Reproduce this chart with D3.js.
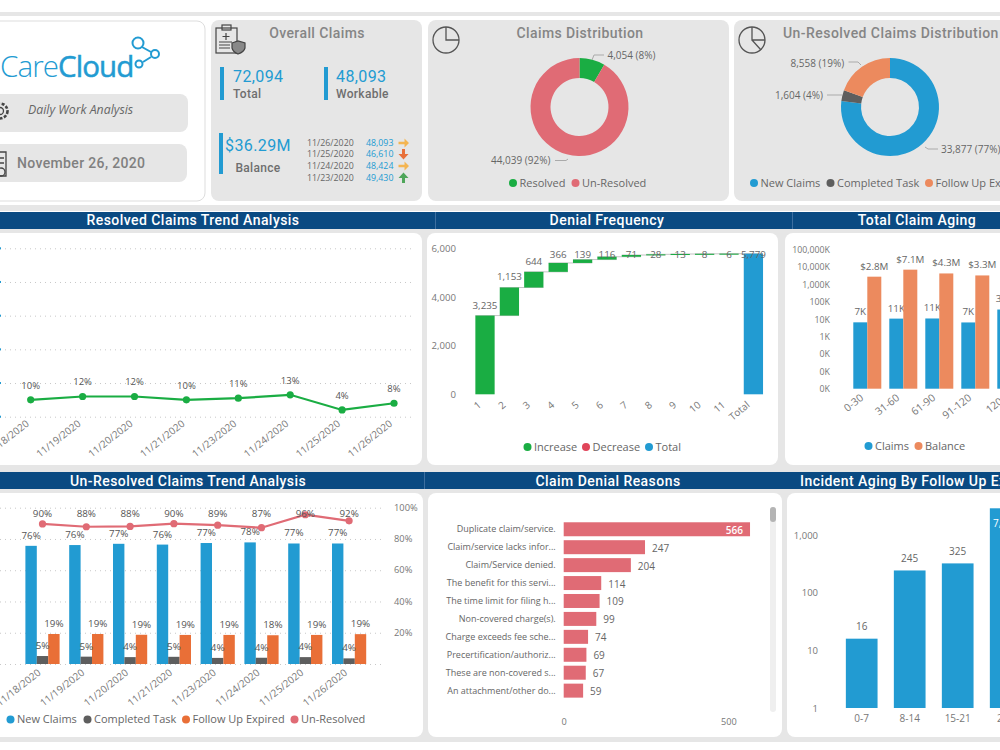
<!DOCTYPE html>
<html>
<head>
<meta charset="utf-8">
<script src="https://cdn.jsdelivr.net/npm/d3@7"></script>
<style>
  html, body { margin: 0; padding: 0; background: #fff; overflow: hidden; }
  text { font-family: "Open Sans", sans-serif; }
  .din { font-family: Roboto, sans-serif; }
</style>
</head>
<body>
<svg id="dash" width="1000" height="750"></svg>
<script>
// Data
const claimDates = ["11/18/2020","11/19/2020","11/20/2020","11/21/2020","11/23/2020","11/24/2020","11/25/2020","11/26/2020"];
const resolvedPct = [10,12,12,10,11,13,4,8];
const pctTicks = [0,20,40,60,80,100];

const recentDates = ["11/26/2020","11/25/2020","11/24/2020","11/23/2020"];
const recentClaims = [48093,46610,48424,49430];
const recentTrend = ["flat","down","flat","up"];

const claimsDistNames = ["Resolved","Un-Resolved"];
const claimsDistValues = [4054,44039];
const unresolvedNames = ["New Claims","Completed Task","Follow Up Expired"];
const unresolvedValues = [33877,1604,8558];

const denialSteps = ["1","2","3","4","5","6","7","8","9","10","11"];
const denialValues = [3235,1153,644,366,139,116,71,28,13,8,6];
const denialTicks = [0,2000,4000,6000];

const agingBuckets = ["0-30","31-60","61-90","91-120","120+"];
const agingClaims = [6600,10800,11000,6500,36000];
const agingBalance = [2800000,7100000,4300000,3300000];
const agingTicks = [1,10,100,1000,10000,100000,1000000,10000000,100000000];

const newClaimsPct = [75.6,76.1,76.9,76.4,77.4,77.8,77.1,77.1];
const completedPct = [5.1,4.7,4.4,4.6,3.9,4.0,4.4,3.6];
const followUpPct = [19.2,19.2,18.7,18.6,18.6,18.4,18.6,19.1];
const unresolvedPct = [89.6,87.8,88,89.8,88.8,87.2,95.5,91.6];

const denialReasons = ["Duplicate claim/service.","Claim/service lacks infor...","Claim/Service denied.","The benefit for this servi...","The time limit for filing h...","Non-covered charge(s).","Charge exceeds fee sche...","Precertification/authoriz...","These are non-covered s...","An attachment/other do..."];
const denialCounts = [566,247,204,114,109,99,74,69,67,59];

const incidentBuckets = ["0-7","8-14","15-21","22+"];
const incidentCounts = [16,245,325,7400];
const incidentTicks = [1,10,100,1000];

const BLUE = "#229bd2", GREEN = "#1aad43", PINK = "#e06b75", DARK = "#5e5e5e",
      SALMON = "#ec8a5e", ORANGE = "#e96f37", NAVY = "#0a4a82", PANEL = "#e6e6e6",
      LABEL = "#666", TICK = "#777";

const svg = d3.select("#dash");

function rect(x, y, w, h, fill, r) {
  return svg.append("rect").attr("x", x).attr("y", y).attr("width", w).attr("height", h)
    .attr("fill", fill).attr("rx", r || 0);
}
function label(x, y, str, size, color, anchor) {
  return svg.append("text").attr("x", x).attr("y", y).attr("dy", "0.35em")
    .attr("font-size", size).attr("fill", color).attr("text-anchor", anchor || "start").text(str);
}
function din(x, y, str, size, color, anchor, weight, spacing) {
  return label(x, y, str, size, color, anchor).attr("class", "din")
    .attr("font-weight", weight || 500).attr("letter-spacing", spacing || 0);
}
function legend(y, items) {
  items.forEach(it => {
    svg.append("circle").attr("cx", it.x).attr("cy", y).attr("r", 4).attr("fill", it.color);
    label(it.x + 6.5, y, it.name, 11, LABEL);
  });
}
function axisClean(g, size) {
  g.select(".domain").remove();
  g.selectAll("text").attr("fill", TICK).attr("font-size", size || 9.8).attr("font-family", '"Open Sans", sans-serif');
}
function rotatedLabels(names, xs, y, angle, size) {
  names.forEach((n, i) => {
    svg.append("text")
      .attr("transform", `translate(${xs(i)},${y}) rotate(${angle})`)
      .attr("text-anchor", "end").attr("font-size", size || 10).attr("fill", TICK).text(n);
  });
}

// page background
rect(0, 12, 1000, 4, PANEL);
rect(0, 205, 1000, 6, PANEL);
rect(0, 228, 1000, 514, PANEL);

// header bands
rect(0, 212, 1000, 17, NAVY);
rect(0, 472, 1000, 17, NAVY);
[435, 792].forEach(x => rect(x, 212, 1, 17, "#3d6fa0"));
rect(424, 472, 1, 17, "#3d6fa0");
din(193, 220.5, "Resolved Claims Trend Analysis", 14, "#fff", "middle", 500, 0.45);
din(607, 220.5, "Denial Frequency", 14, "#fff", "middle", 500, 0.45);
din(917, 220.5, "Total Claim Aging", 14, "#fff", "middle", 500, 0.45);
din(188, 481, "Un-Resolved Claims Trend Analysis", 14, "#fff", "middle", 500, 0.45);
din(608, 481, "Claim Denial Reasons", 14, "#fff", "middle", 500, 0.45);
din(800, 481, "Incident Aging By Follow Up Expired", 14, "#fff", "start", 500, 0.45);

// cards
rect(-12, 21, 217, 180, "#fff", 8).attr("stroke", "#ddd");
rect(211, 20, 211, 181, PANEL, 8);
rect(428, 20, 301, 181, PANEL, 8);
rect(734, 20, 300, 181, PANEL, 8);
rect(-12, 233, 434, 232, "#fff", 8);
rect(427, 233, 351, 232, "#fff", 8);
rect(785, 233, 240, 232, "#fff", 8);
rect(-12, 493, 435, 244, "#fff", 8);
rect(428, 493, 354, 244, "#fff", 8);
rect(787, 493, 240, 244, "#fff", 8);

// logo panel
const logo = svg.append("text").attr("x", 0).attr("y", 77).attr("font-size", 29.5).attr("fill", BLUE)
  .attr("letter-spacing", -0.9).attr("font-family", "Lato, sans-serif");
logo.append("tspan").attr("font-weight", 300).text("Care");
logo.append("tspan").attr("font-weight", 400).attr("stroke", BLUE).attr("stroke-width", 0.5).text("Cloud");
const logoNodes = svg.append("g").attr("fill", "none").attr("stroke", BLUE).attr("stroke-width", 2);
logoNodes.append("path").attr("d", "M142,47 L151,52 M151,57 L143,62");
logoNodes.append("circle").attr("cx", 138).attr("cy", 43).attr("r", 5.5);
logoNodes.append("circle").attr("cx", 155).attr("cy", 54).attr("r", 4);
logoNodes.append("circle").attr("cx", 139).attr("cy", 64).attr("r", 3.5);

rect(-12, 94, 200, 38, PANEL, 8);
rect(-12, 144, 199, 38, PANEL, 8);
svg.append("text").attr("x", 28).attr("y", 110).attr("dy", "0.35em").attr("font-size", 12.3)
  .attr("font-style", "italic").attr("fill", "#666").text("Daily Work Analysis");
din(17, 163.5, "November 26, 2020", 14, "#808080", "start", 500, 0.35);

// small gear + calendar icons at the cut edge
const gear = svg.append("g").attr("fill", "none").attr("stroke", "#444").attr("stroke-width", 1.3);
gear.append("circle").attr("cx", 0).attr("cy", 111).attr("r", 7.5).attr("stroke-dasharray", "3,1.6").attr("stroke-width", 2.6);
gear.append("circle").attr("cx", 0).attr("cy", 111).attr("r", 3.5);
gear.append("path").attr("d", "M0,152 H6 V176 H0 M0,158 H4 M0,163 H4");
gear.append("circle").attr("cx", 1).attr("cy", 172).attr("r", 4);

// overall claims
din(317, 33, "Overall Claims", 14, "#858585", "middle", 500, 0.4);
const clip = svg.append("g").attr("fill", "none").attr("stroke", "#444").attr("stroke-width", 1.2);
clip.append("rect").attr("x", 216).attr("y", 28).attr("width", 21).attr("height", 25);
clip.append("rect").attr("x", 222).attr("y", 25).attr("width", 9).attr("height", 5);
clip.append("path").attr("d", "M219,42 H232 M219,45 H230 M219,48 H230 M226,33 V40 M222.5,36.5 H229.5");
clip.append("path").attr("d", "M232,43 L238,41 L245,43 V48 Q244,52 238,54 Q233,52 232,48 Z").attr("fill", "#888");

rect(220, 67, 4, 33, BLUE);
din(233, 76.5, "72,094", 16, BLUE, "start", 400, 0.4);
din(233, 93.5, "Total", 12, "#6e6e6e", "start", 500, 0.3);
rect(324, 67, 4, 33, BLUE);
din(336, 76.5, "48,093", 16, BLUE, "start", 400, 0.4);
din(336, 93.5, "Workable", 12, "#6e6e6e", "start", 500, 0.3);
rect(219, 133, 4, 41, BLUE);
din(258, 145, "$36.29M", 16, BLUE, "middle", 400, 0.4);
din(258, 168, "Balance", 12, "#6e6e6e", "middle", 500, 0.3);

const trendColor = { flat: "#f4b551", down: "#e8703a", up: "#4fa65a" };
const trendPath = {
  flat: "M-5,-1.2 H1 V-4.5 L5.5,0 L1,4.5 V1.2 H-5 Z",
  down: "M-1.5,-5 H1.5 V0 H5 L0,5.5 L-5,0 H-1.5 Z",
  up: "M-1.5,5 H1.5 V0 H5 L0,-5.5 L-5,0 H-1.5 Z"
};
const tableY = [143, 154, 166, 178];
recentDates.forEach((d, i) => {
  label(307, tableY[i], d, 8.8, "#666");
  label(366, tableY[i], d3.format(",")(recentClaims[i]), 8.8, BLUE);
  svg.append("path").attr("d", trendPath[recentTrend[i]])
    .attr("transform", `translate(403.5,${tableY[i]})`).attr("fill", trendColor[recentTrend[i]]);
});

// donuts
function donut(cx, cy, values, colors) {
  const pie = d3.pie().sort(null);
  const arc = d3.arc().innerRadius(29).outerRadius(49);
  svg.append("g").attr("transform", `translate(${cx},${cy})`)
    .selectAll("path").data(pie(values)).join("path")
    .attr("d", arc).attr("fill", (d, i) => colors[i]);
}
function leader(points) {
  svg.append("path").attr("d", d3.line()(points)).attr("fill", "none").attr("stroke", "#aaa");
}

const distFmt = (v, arr) => `${d3.format(",")(v)} (${Math.round(v / d3.sum(arr) * 100)}%)`;

svg.append("g").attr("fill", "none").attr("stroke", "#555").attr("stroke-width", 1.3).call(g => {
  g.append("circle").attr("cx", 446).attr("cy", 40).attr("r", 13);
  g.append("path").attr("d", "M446,27 V40 H459");
  g.append("circle").attr("cx", 752).attr("cy", 40).attr("r", 13);
  g.append("path").attr("d", "M752,27 V40 H765 M752,40 L761,50");
});

din(580, 33, "Claims Distribution", 14, "#858585", "middle", 500, 0.4);
donut(579.5, 107, claimsDistValues, [GREEN, PINK]);
leader([[592, 60], [594, 55], [604, 55]]);
label(607.5, 55.5, distFmt(claimsDistValues[0], claimsDistValues), 10, "#666");
leader([[555, 160.5], [566, 160.5], [568, 159]]);
label(491, 160.5, distFmt(claimsDistValues[1], claimsDistValues), 10, "#666");
legend(183, [
  { x: 513, color: GREEN, name: claimsDistNames[0] },
  { x: 575.5, color: PINK, name: claimsDistNames[1] }
]);

din(783, 33, "Un-Resolved Claims Distribution", 14, "#858585", "start", 500, 0.45);
donut(890, 107, unresolvedValues, [BLUE, DARK, SALMON]);
leader([[848.5, 62], [858, 62], [861, 65]]);
label(790.5, 63, distFmt(unresolvedValues[2], unresolvedValues), 10, "#666");
leader([[827, 95], [842, 95]]);
label(775, 95, distFmt(unresolvedValues[1], unresolvedValues), 10, "#666");
leader([[925, 147], [928, 149], [938, 149]]);
label(941, 149.5, distFmt(unresolvedValues[0], unresolvedValues), 10, "#666");
legend(183, [
  { x: 754, color: BLUE, name: unresolvedNames[0] },
  { x: 830.5, color: DARK, name: unresolvedNames[1] },
  { x: 929, color: SALMON, name: unresolvedNames[2] }
]);

// resolved trend
{
  const x = d3.scalePoint().domain(d3.range(8)).range([30.7, 394]);
  const y = d3.scaleLinear().domain([0, 100]).range([416.7, 248.3]);
  svg.append("g").attr("transform", "translate(0,0)")
    .call(d3.axisRight(y).tickValues(pctTicks).tickSize(412).tickFormat(""))
    .call(g => {
      g.select(".domain").remove();
      g.selectAll("line").attr("stroke", "#c8c8c8").attr("stroke-dasharray", "1,4");
    });
  pctTicks.forEach(t => rect(0, y(t) - 1, 1, 2, BLUE));
  svg.append("path").datum(resolvedPct)
    .attr("d", d3.line().x((d, i) => x(i)).y(d => y(d)))
    .attr("fill", "none").attr("stroke", GREEN).attr("stroke-width", 2.2);
  svg.selectAll(".rp").data(resolvedPct).join("circle").attr("class", "rp")
    .attr("cx", (d, i) => x(i)).attr("cy", d => y(d)).attr("r", 3.6).attr("fill", GREEN);
  resolvedPct.forEach((d, i) => label(x(i), y(d) - 14.5, d + "%", 9.5, "#555", "middle"));
  rotatedLabels(claimDates, i => x(i) - 1, 425, -38, 10);
}

// waterfall
{
  const names = denialSteps.concat(["Total"]);
  const x = d3.scaleBand().domain(names).range([472.8, 765.6]).paddingInner(0.21).paddingOuter(0.105);
  const y = d3.scaleLinear().domain([0, 6000]).range([394.3, 248.3]);
  svg.append("g").attr("transform", "translate(459,0)")
    .call(d3.axisLeft(y).tickValues(denialTicks).tickSize(0).tickFormat(d3.format(",")))
    .call(g => axisClean(g, 9.6));
  const steps = [];
  let run = 0;
  denialValues.forEach((v, i) => { steps.push({ name: denialSteps[i], start: run, end: run + v, v: v }); run += v; });
  steps.push({ name: "Total", start: 0, end: run, v: run });

  steps.forEach((s, i) => {
    if (i < steps.length - 1) {
      svg.append("line").attr("x1", x(s.name)).attr("x2", x(steps[i + 1].name) + x.bandwidth())
        .attr("y1", y(s.end)).attr("y2", y(s.end)).attr("stroke", "#c4c4c4");
    }
  });
  svg.selectAll(".wf").data(steps).join("rect").attr("class", "wf")
    .attr("x", d => x(d.name)).attr("width", x.bandwidth())
    .attr("y", d => y(d.end)).attr("height", d => Math.max(1, y(d.start) - y(d.end)))
    .attr("fill", d => d.name === "Total" ? BLUE : GREEN);
  steps.forEach(s => {
    label(x(s.name) + x.bandwidth() / 2, Math.max(y(s.end) - 10.5, 255), d3.format(",")(s.v), 9.8, "#666", "middle");
  });
  rotatedLabels(names, i => x(names[i]) + x.bandwidth() / 2 - 3, 406, -40, 10);
  legend(447, [
    { x: 527.5, color: GREEN, name: "Increase" },
    { x: 586, color: "#e0455a", name: "Decrease" },
    { x: 649, color: BLUE, name: "Total" }
  ]);
}

// total claim aging
{
  const bw = 14;
  const y = d3.scaleLog().domain([1, 1e8]).range([388.7, 249.7]);
  const fmtK = d => d3.format(",")(Math.floor(d / 1000)) + "K";
  svg.append("g").attr("transform", "translate(833,0)")
    .call(d3.axisLeft(y).tickValues(agingTicks).tickSize(0).tickFormat(fmtK))
    .call(g => axisClean(g, 8.8));
  const groupX = i => 853.3 + 36 * i;
  agingClaims.forEach((v, i) => {
    rect(groupX(i), y(v), bw, y(1) - y(v), BLUE);
    label(groupX(i) + bw / 2, y(v) - 10.5, Math.round(v / 1000) + "K", 9.8, "#666", "middle");
  });
  agingBalance.forEach((v, i) => {
    rect(groupX(i) + bw, y(v), bw, y(1) - y(v), SALMON);
    label(groupX(i) + bw * 1.5, y(v) - 10.5, "$" + (v / 1e6).toFixed(1) + "M", 9.8, "#666", "middle");
  });
  rotatedLabels(agingBuckets, i => groupX(i) + 11, 399, -38, 10.5);
  legend(446, [
    { x: 868.5, color: BLUE, name: "Claims" },
    { x: 918.5, color: SALMON, name: "Balance" }
  ]);
}

// un-resolved trend
{
  const x = d3.scaleBand().domain(d3.range(8)).range([42.5 - 21.9, 42.5 - 21.9 + 43.8 * 8]);
  const bw = 11.4;
  const y = d3.scaleLinear().domain([0, 100]).range([664, 507.7]);
  svg.append("g").call(d3.axisRight(y).tickValues(pctTicks).tickSize(384).tickFormat(""))
    .call(g => {
      g.select(".domain").remove();
      g.selectAll("line").attr("stroke", "#c8c8c8").attr("stroke-dasharray", "1,4");
    });
  pctTicks.filter(t => t > 0).forEach(t => label(394, y(t), t + "%", 9.3, TICK));

  const cx = i => x(i) + x.bandwidth() / 2;
  [[newClaimsPct, BLUE, -1.5], [completedPct, DARK, -0.5], [followUpPct, ORANGE, 0.5]].forEach(s => {
    s[0].forEach((v, i) => {
      rect(cx(i) + s[2] * bw, y(v), bw, y(0) - y(v), s[1]);
    });
  });
  [[newClaimsPct, -1], [completedPct, 0], [followUpPct, 1]].forEach(s => {
    s[0].forEach((v, i) => {
      label(cx(i) + s[1] * bw, y(v) - 10.5, Math.round(v) + "%", 9.8, "#555", "middle");
    });
  });
  svg.append("path").datum(unresolvedPct)
    .attr("d", d3.line().x((d, i) => cx(i)).y(d => y(d)))
    .attr("fill", "none").attr("stroke", PINK).attr("stroke-width", 2.2);
  svg.selectAll(".up").data(unresolvedPct).join("circle").attr("class", "up")
    .attr("cx", (d, i) => cx(i)).attr("cy", d => y(d)).attr("r", 3.6).attr("fill", PINK);
  // the labels of this line sit in one row at the top of the plot
  unresolvedPct.forEach((d, i) => label(cx(i), 514, Math.round(d) + "%", 9.8, "#555", "middle"));
  rotatedLabels(claimDates, i => cx(i) - 1, 674, -38, 10);
  legend(719.5, [
    { x: 10.5, color: BLUE, name: "New Claims" },
    { x: 87.5, color: DARK, name: "Completed Task" },
    { x: 186, color: ORANGE, name: "Follow Up Expired" },
    { x: 294.5, color: PINK, name: "Un-Resolved" }
  ]);
}

// denial reasons
{
  const x = d3.scaleLinear().domain([0, 500]).range([563.7, 728.3]);
  const y = d3.scaleBand().domain(denialReasons).range([520.3, 520.3 + 17.93 * 10]).paddingInner(0.22).paddingOuter(0.11);
  svg.selectAll(".dr").data(denialCounts).join("rect").attr("class", "dr")
    .attr("x", x(0)).attr("y", (d, i) => y(denialReasons[i]))
    .attr("width", d => x(d) - x(0)).attr("height", y.bandwidth()).attr("fill", PINK);
  denialReasons.forEach((r, i) => {
    const cy = y(r) + y.bandwidth() / 2;
    label(555.7, cy, r, 9, "#666", "end");
    const v = denialCounts[i];
    if (i === 0) label(x(v) - 7, cy + 1, v, 10, "#fff", "end").attr("font-weight", 600);
    else label(x(v) + 7, cy + 1, v, 10, "#666");
  });
  svg.append("g").attr("transform", "translate(0,722)")
    .call(d3.axisBottom(x).tickValues([0, 500]).tickSize(0).tickPadding(-4))
    .call(g => axisClean(g, 9.2));
  rect(770, 507, 6, 205, "#efefef", 3);
  rect(770, 507, 6, 15, "#b4b4b4", 3);
}

// incident aging
{
  const x = d3.scaleBand().domain(incidentBuckets).range([837.7, 837.7 + 48 * 4]).paddingInner(16.3 / 48).paddingOuter(8.15 / 48);
  const y = d3.scaleLog().domain([1, 1000]).range([708, 535.3]);
  const plotTop = 508.3;
  svg.append("g").attr("transform", "translate(821,0)")
    .call(d3.axisLeft(y).tickValues(incidentTicks).tickSize(0).tickFormat(d3.format(",")))
    .call(g => axisClean(g, 9.5));
  // tallest bar runs past the plot top in the reference, so it is cut there
  svg.selectAll(".ia").data(incidentCounts).join("rect").attr("class", "ia")
    .attr("x", (d, i) => x(incidentBuckets[i])).attr("width", x.bandwidth())
    .attr("y", d => Math.max(y(d), plotTop)).attr("height", d => y(1) - Math.max(y(d), plotTop))
    .attr("fill", BLUE);
  incidentCounts.forEach((v, i) => {
    const cx = x(incidentBuckets[i]) + x.bandwidth() / 2;
    if (y(v) < plotTop) label(cx, plotTop + 15, d3.format(",")(v), 10, "#fff", "middle");
    else label(cx, y(v) - 12, v, 10, "#666", "middle");
    label(cx, 718.5, incidentBuckets[i], 10, TICK, "middle");
  });
}
</script>
</body>
</html>
